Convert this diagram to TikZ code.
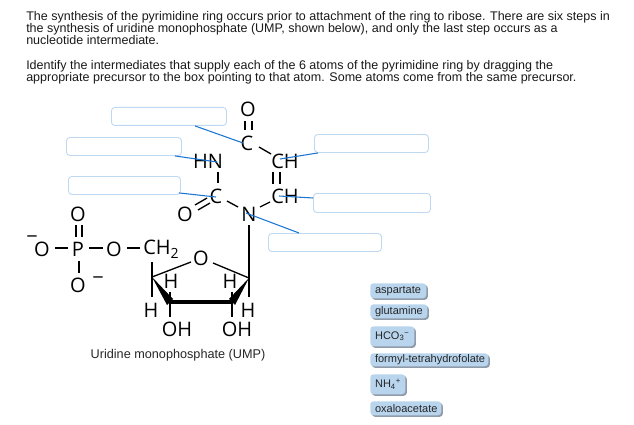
\documentclass[tikz,border=0pt]{standalone}
\usepackage{fontspec}
\setmainfont{Liberation Sans}
\newfontfamily\chemfont{Open Sans}
\usetikzlibrary{shadows}
\definecolor{boxline}{HTML}{BFD9F3}
\definecolor{leader}{HTML}{1B76D2}
\definecolor{chipfill}{HTML}{B9D5EE}
\definecolor{chipshadow}{HTML}{8F9BA8}
\tikzset{
  x=0.75pt,y=-0.75pt,
  dropbox/.style={draw=boxline,line width=0.7pt,rounded corners=2.5pt,fill=white,inner sep=0pt},
  leaderline/.style={draw=leader,line width=0.8pt},
  atom/.style={inner sep=0pt,font=\chemfont\fontsize{15}{15}\selectfont},
  bond/.style={draw=black,line width=1pt},
  boldbond/.style={draw=black,line width=3.2pt},
  chip/.style={anchor=north west,fill=chipfill,rounded corners=2.5pt,inner sep=0pt,align=left,
    font=\fontsize{8.25}{9}\selectfont,text=black!85,
    drop shadow={shadow xshift=1.2pt,shadow yshift=-1.2pt,fill=chipshadow,opacity=1}},
  para/.style={anchor=north west,inner sep=0pt,align=left,font=\fontsize{9.39}{9}\selectfont,text=black!90},
}
\newcommand{\dbox}[5]{\node[dropbox,anchor=north west,minimum width=#4*0.75pt,minimum height=#5*0.75pt] (#1) at (#2,#3) {};}
\begin{document}
\begin{tikzpicture}
\useasboundingbox (0,0) rectangle (634,424);
% instructions
\node[para] (intro) at (26,11) {The synthesis of the pyrimidine ring occurs prior to attachment of the ring to ribose. There are six steps in\\the synthesis of uridine monophosphate (UMP, shown below), and only the last step occurs as a\\nucleotide intermediate.};
\node[para] (task) at (26,60) {Identify the intermediates that supply each of the 6 atoms of the pyrimidine ring by dragging the\\appropriate precursor to the box pointing to that atom. Some atoms come from the same precursor.};
% ring atoms
\node[atom] (o4) at (248,109) {O};
\node[atom] (c4) at (247,143) {C};
\node[atom] (n3) at (208,161) {HN};
\node[atom] (c5) at (285,161) {CH};
\node[atom] (c2) at (216,196) {C};
\node[atom] (c6) at (285,196) {CH};
\node[atom] (n1) at (249,214) {N};
\node[atom] (o2) at (185,214) {O};
% phosphate
\node[atom] (om) at (42,249) {O};
\node[atom] (mn1) at (32,240) {−};
\node[atom] (p) at (78,249) {P};
\node[atom] (op) at (78,214) {O};
\node[atom] (oe) at (114,249) {O};
\node[atom,anchor=west] (ch2) at (143,249) {CH\textsubscript{2}};
\node[atom] (ob) at (78,285) {O};
\node[atom] (mn2) at (98,281) {−};
% sugar
\node[atom] (or) at (201,258) {O};
\coordinate (r4) at (152,277);
\coordinate (r3) at (170,302);
\coordinate (r2) at (232,302);
\coordinate (r1) at (249,278);
\node[atom] (h4) at (151,310) {H};
\node[atom] (h3) at (171,281) {H};
\node[atom] (h2) at (230,281) {H};
\node[atom] (h1) at (248,310) {H};
\node[atom] (oh3) at (177,329) {OH};
\node[atom] (oh2) at (237,329) {OH};
% ring bonds
\draw[bond] ([shift={(-3,12)}]o4.center) -- ([shift={(-2,-13)}]c4.center);
\draw[bond] ([shift={(4,12)}]o4.center) -- ([shift={(5,-13)}]c4.center);
\draw[bond] ([shift={(-18,9)}]c4.center) -- ([shift={(21,-9)}]n3.center);
\draw[bond] ([shift={(12,4)}]c4.center) -- ([shift={(-14,-7)}]c5.center);
\draw[bond] ([shift={(10,11)}]n3.center) -- ([shift={(2,-13)}]c2.center);
\draw[bond] ([shift={(-12,11)}]c5.center) -- ([shift={(-12,-12)}]c6.center);
\draw[bond] ([shift={(-5,11)}]c5.center) -- ([shift={(-5,-12)}]c6.center);
\draw[bond] ([shift={(11,5)}]c2.center) -- ([shift={(-11,-7)}]n1.center);
\draw[bond] ([shift={(11,-7)}]n1.center) -- ([shift={(-15,6)}]c6.center);
\draw[bond] ([shift={(10,-9)}]o2.center) -- ([shift={(-9,2)}]c2.center);
\draw[bond] ([shift={(13,-4)}]o2.center) -- ([shift={(-6,7)}]c2.center);
% phosphate bonds
\draw[bond] ([shift={(-2,11)}]op.center) -- ([shift={(-2,-12)}]p.center);
\draw[bond] ([shift={(4,11)}]op.center) -- ([shift={(4,-12)}]p.center);
\draw[bond] ([shift={(13,-1)}]om.center) -- ([shift={(-10,-1)}]p.center);
\draw[bond] ([shift={(11,-1)}]p.center) -- ([shift={(-11,-1)}]oe.center);
\draw[bond] ([shift={(13,-1)}]oe.center) -- ([shift={(-3,-1)}]ch2.west);
\draw[bond] ([shift={(1,12)}]p.center) -- ([shift={(1,-12)}]ob.center);
% sugar bonds
\draw[bond] ([shift={(0,-15)}]r4) -- ([shift={(0,20)}]r4);
\draw[bond] (r4) -- ([shift={(-10,4)}]or.center);
\draw[bond] ([shift={(12,5)}]or.center) -- (r1);
\fill (r4) -- ([shift={(-3,3)}]r3) -- ([shift={(3,-3)}]r3) -- cycle;
\fill (r1) -- ([shift={(3,3)}]r2) -- ([shift={(-3,-3)}]r2) -- cycle;
\draw[boldbond] (r3) -- (r2);
\draw[bond] ([shift={(0,-10)}]r3) -- ([shift={(0,15)}]r3);
\draw[bond] ([shift={(0,-10)}]r2) -- ([shift={(0,15)}]r2);
\draw[bond] ([shift={(0,11)}]n1.center) -- (r1) -- ++(0,19);
% boxes
\dbox{ba}{111}{107}{115}{18}
\dbox{bb}{66}{137}{115}{18}
\dbox{bc}{68}{176}{112}{18}
\dbox{bd}{314}{134}{114}{18}
\dbox{be}{313}{193}{117}{19}
\dbox{bf}{268}{233}{113}{18}
% leaders
\draw[leaderline] ([shift={(84,0)}]ba.south west) -- ([shift={(-4,0)}]c4.center);
\draw[leaderline] ([shift={(109,0)}]bb.south west) -- ([shift={(9,1)}]n3.center);
\draw[leaderline] ([shift={(111,-2)}]bc.south west) -- ([shift={(0,1)}]c2.center);
\draw[leaderline] ([shift={(4,0)}]bd.south west) -- ([shift={(-5,-2)}]c5.center);
\draw[leaderline] ([shift={(0,5)}]be.north west) -- ([shift={(-6,0)}]c6.center);
\draw[leaderline] ([shift={(31,0)}]bf.north west) -- ([shift={(-3,-1)}]n1.center);
% caption
\node[inner sep=0pt,font=\fontsize{9.5}{11}\selectfont,text=black!85] (cap) at (178,355) {Uridine monophosphate (UMP)};
% precursor chips
\node[chip,minimum height=15*0.75pt,text width=56*0.75pt] (s1) at (370,283) {\hspace*{3.6pt}aspartate};
\node[chip,minimum height=14*0.75pt,text width=57*0.75pt] (s2) at (370,304) {\hspace*{3.6pt}glutamine};
\node[chip,minimum height=20*0.75pt,text width=44*0.75pt] (s3) at (370,326) {\hspace*{3.6pt}HCO\textsubscript{3}\textsuperscript{−}};
\node[chip,minimum height=13*0.75pt,text width=118*0.75pt] (s4) at (370,353) {\hspace*{3.6pt}formyl-tetrahydrofolate};
\node[chip,minimum height=20*0.75pt,text width=35*0.75pt] (s5) at (370,374) {\hspace*{3.6pt}NH\textsubscript{4}\textsuperscript{+}};
\node[chip,minimum height=14*0.75pt,text width=71*0.75pt] (s6) at (370,401) {\hspace*{3.6pt}oxaloacetate};
\end{tikzpicture}
\end{document}
